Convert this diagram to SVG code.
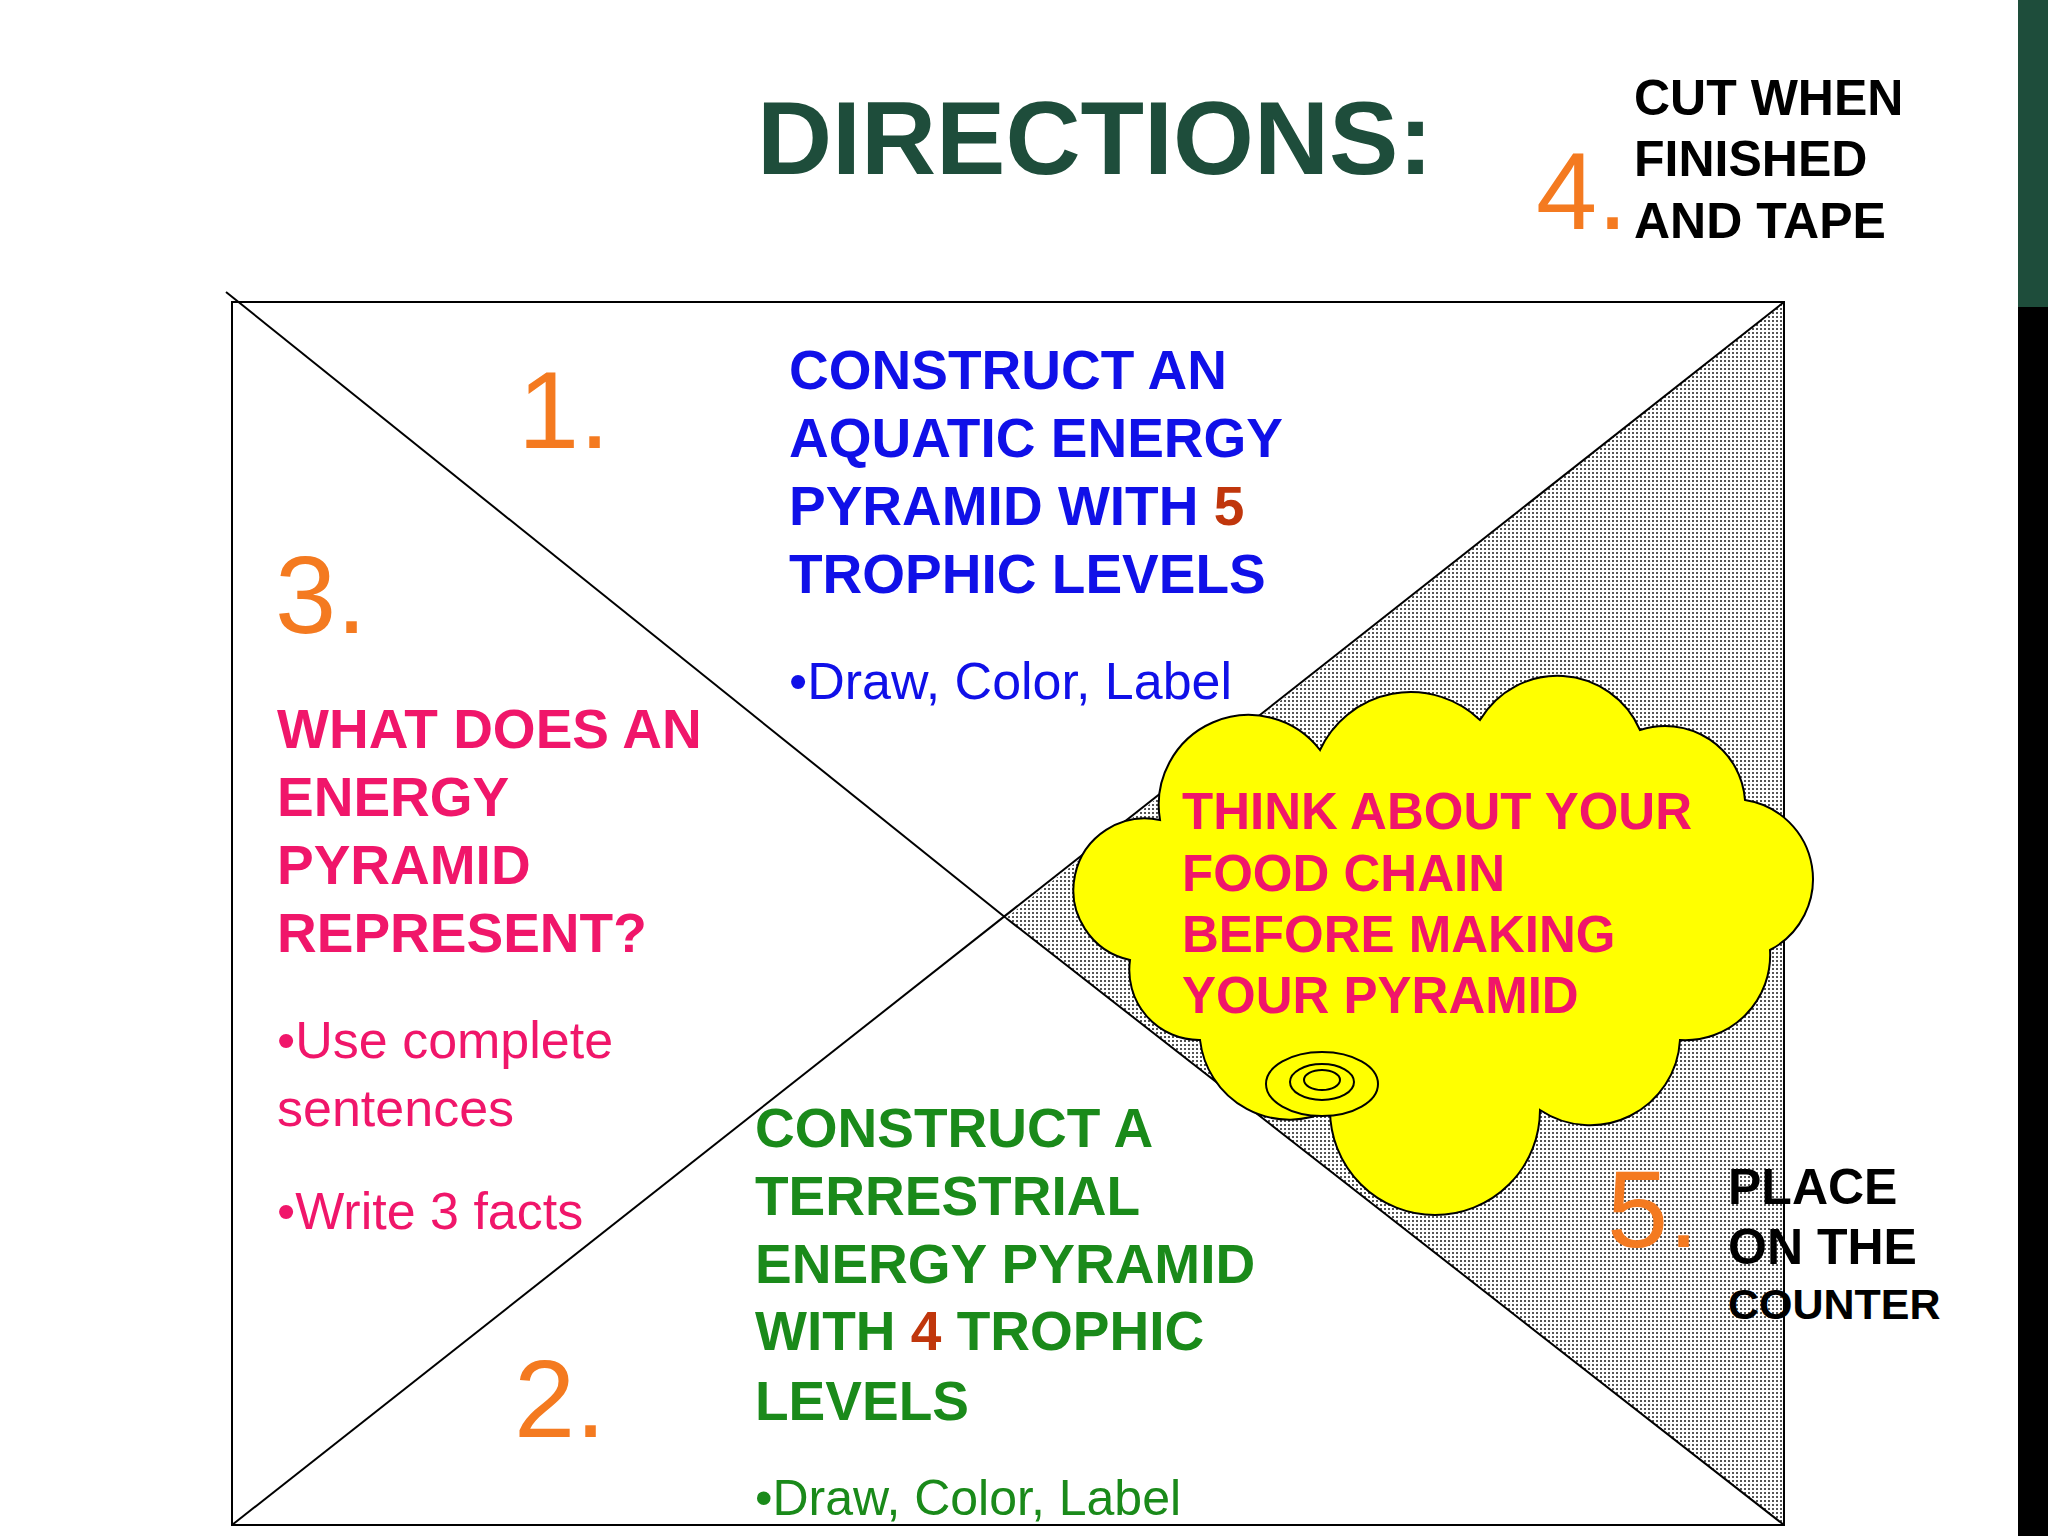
<svg xmlns="http://www.w3.org/2000/svg" width="2048" height="1536" viewBox="0 0 2048 1536">
<style>
.b{font-family:"Liberation Sans",Arial,sans-serif;font-weight:bold}
.r{font-family:"Liberation Sans",Arial,sans-serif}
.num{font-family:"Liberation Sans",Arial,sans-serif;font-size:110px;fill:#f47a20}
.blue{fill:#1010e8}.pink{fill:#f0166a}.green{fill:#1a8a1a}.red{fill:#c0360c}
</style>
<defs>
<pattern id="dots" width="4" height="4" patternUnits="userSpaceOnUse"><rect width="4" height="4" fill="#fff"/><rect width="2" height="2" fill="#555"/></pattern>
</defs>
<rect width="2048" height="1536" fill="#fff"/>
<rect x="2018" y="0" width="30" height="307" fill="#1e4d3b"/>
<rect x="2018" y="307" width="30" height="1229" fill="#000"/>
<text class="b" x="757" y="174" font-size="104" fill="#1e4d3b">DIRECTIONS:</text>
<text class="num" x="1536" y="229">4.</text>
<g class="b" font-size="50"><text x="1634" y="115">CUT WHEN</text><text x="1634" y="176">FINISHED</text><text x="1634" y="238">AND TAPE</text></g>
<g id="frame">
<polygon points="1006,918 1784,302 1784,1525" fill="url(#dots)"/>
<rect x="232" y="302" width="1552" height="1223" fill="none" stroke="#000" stroke-width="2"/>
</g>
<g id="connectors" stroke="#000" stroke-width="2">
<line x1="226" y1="292" x2="1006" y2="918"/>
<line x1="232" y1="1525" x2="1784" y2="302"/>
<line x1="1006" y1="918" x2="1784" y2="1525"/>
</g>
<g id="n1"><text class="num" x="518" y="448">1.</text>
<g class="b blue" font-size="55"><text x="789" y="389">CONSTRUCT AN</text><text x="789" y="457">AQUATIC ENERGY</text><text x="789" y="525">PYRAMID WITH <tspan class="red">5</tspan></text><text x="789" y="593">TROPHIC LEVELS</text></g>
<text class="r blue" x="789" y="699" font-size="52">•Draw, Color, Label</text></g>
<g id="n3"><text class="num" x="275" y="633">3.</text>
<g class="b pink" font-size="55"><text x="277" y="748">WHAT DOES AN</text><text x="277" y="816">ENERGY</text><text x="277" y="884">PYRAMID</text><text x="277" y="952">REPRESENT?</text></g>
<g class="r pink" font-size="52"><text x="277" y="1058">•Use complete</text><text x="277" y="1126">sentences</text><text x="277" y="1229">•Write 3 facts</text></g></g>
<g id="cloud">
<path d="M1130,960 A70,70 0 0 1 1160,820 A90,90 0 0 1 1320,750 A100,100 0 0 1 1480,720 A90,90 0 0 1 1640,730 A80,80 0 0 1 1745,800 A80,80 0 0 1 1770,950 A85,85 0 0 1 1680,1040 A90,90 0 0 1 1540,1110 A100,100 0 0 1 1330,1110 A90,90 0 0 1 1200,1040 A70,70 0 0 1 1130,960 Z" fill="#ffff00" stroke="#000" stroke-width="2"/>
<ellipse cx="1322" cy="1084" rx="56" ry="32" fill="#ffff00" stroke="#000" stroke-width="2"/>
<ellipse cx="1322" cy="1082" rx="32" ry="18" fill="none" stroke="#000" stroke-width="2"/>
<ellipse cx="1322" cy="1080" rx="18" ry="10" fill="none" stroke="#000" stroke-width="2"/>
<g class="b pink" font-size="51"><text x="1182" y="829">THINK ABOUT YOUR</text><text x="1182" y="891">FOOD CHAIN</text><text x="1182" y="952">BEFORE MAKING</text><text x="1182" y="1013">YOUR PYRAMID</text></g></g>
<g id="n2"><text class="num" x="514" y="1437">2.</text>
<g class="b green" font-size="55"><text x="755" y="1147">CONSTRUCT A</text><text x="755" y="1215">TERRESTRIAL</text><text x="755" y="1283">ENERGY PYRAMID</text><text x="755" y="1350">WITH <tspan class="red">4</tspan> TROPHIC</text><text x="755" y="1420">LEVELS</text></g>
<text class="r green" x="755" y="1515" font-size="50">•Draw, Color, Label</text></g>
<g id="n5"><text class="num" x="1607" y="1247">5.</text>
<g class="b" font-size="50"><text x="1728" y="1204">PLACE</text><text x="1728" y="1264">ON THE</text><text x="1728" y="1319" font-size="43">COUNTER</text></g></g>
</svg>
